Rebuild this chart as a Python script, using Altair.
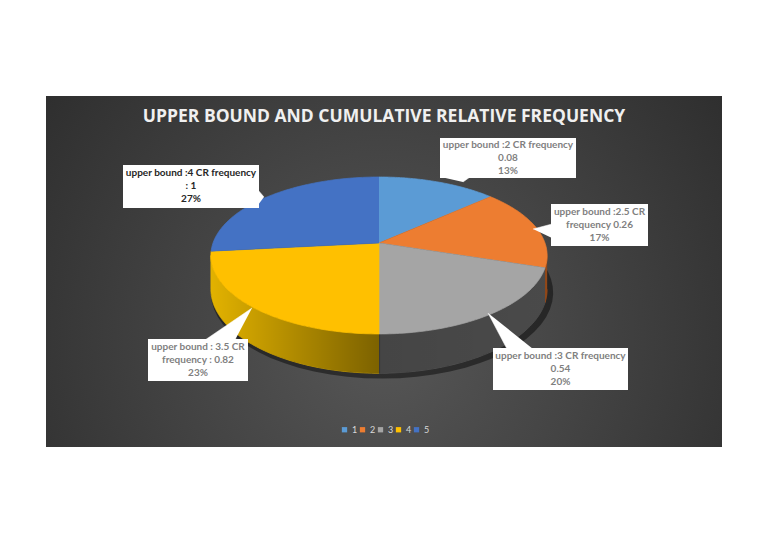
import altair as alt
import pandas as pd

# ---------------- data ----------------
slices = [1, 2, 3, 4, 5]
upper_bound = [2, 2.5, 3, 3.5, 4]
cr_frequency = [0.08, 0.26, 0.54, 0.82, 1]
percent_text = ["13%", "17%", "20%", "23%", "27%"]
label_line1 = ["upper bound :2 CR frequency", "upper bound :2.5 CR",
               "upper bound :3 CR frequency", "upper bound : 3.5 CR",
               "upper bound :4 CR frequency"]
label_line2 = ["0.08", "frequency 0.26", "0.54", "frequency : 0.82", ": 1"]
title_text = "UPPER BOUND AND CUMULATIVE RELATIVE FREQUENCY"

# ---------------- styles / layout ----------------
TOP_COLORS = ["#5b9bd5", "#ed7d31", "#a5a5a5", "#ffc000", "#4472c4"]
SIDE_COLORS = ["#3d6e9c", "#b85a1e", "#5c5c5c", "#e2b200", "#2f559a"]
TEXT_COLORS = ["#7f7f7f", "#7f7f7f", "#7f7f7f", "#7f7f7f", "#262626"]
RX, RY, PERSP, DEPTH, N = 166, 76.5, 0.159, 33, 72
X_DOMAIN = [-333, 343]
Y_DOMAIN = [-204, 147]
BOX_X0 = [61, 172, 114, -231, -256]
BOX_X1 = [197, 269, 249, -131, -120]
BOX_Y0 = [65, -3, -147, -138, 35]
BOX_Y1 = [105, 39, -105, -96, 78]
LINE_Y = [[98, 85, 72], [31, 18, 5], [-113, -126, -139], [-104, -117, -130], [70, 57, 44]]
POINTERS = [[(62, 66), (91, 66), (84, 61)],
            [(154, 14), (173, 19), (173, 5)],
            [(109, -70), (128, -106), (154, -106)],
            [(-127, -65), (-174, -97), (-144, -97)],
            [(-115, 46), (-121, 53), (-121, 38)]]
TITLE_POS = (5, 126)
FONT = "Lato"

X = alt.X("x:Q", scale=alt.Scale(domain=X_DOMAIN, nice=False, zero=False), axis=None)
Y = alt.Y("y:Q", scale=alt.Scale(domain=Y_DOMAIN, nice=False, zero=False), axis=None)

def color_expr(colors):
    return "[" + ",".join("'%s'" % c for c in colors) + "][datum.slice - 1]"

S_EXPR = "1 / (1 + %f * cos(datum.phi))" % PERSP

# ---------------- tables ----------------
top_df = pd.DataFrame([(s, v, k) for s, v in zip(slices, upper_bound) for k in range(N + 2)],
                      columns=["slice", "value", "k"])
side_df = pd.DataFrame([(s, v, k) for s, v in zip(slices, upper_bound) for k in range(2 * N + 2)],
                       columns=["slice", "value", "k"])
ring_df = pd.DataFrame({"k": list(range(2 * N + 2))})
shadow_df = pd.DataFrame({"k": list(range(N + 1))})


def with_fractions(chart):
    return (chart
            .transform_calculate(v0="datum.k == 0 ? datum.value : 0")
            .transform_joinaggregate(total="sum(v0)")
            .transform_window(cum="sum(v0)", sort=[alt.SortField("slice"), alt.SortField("k")],
                              frame=[None, 0])
            .transform_calculate(f0="(datum.cum - datum.value) / datum.total",
                                 f1="datum.cum / datum.total"))

# panel background
bg_grad = alt.RadialGradient(
    gradient="radial", x1=0.5, y1=0.6, x2=0.5, y2=0.6, r1=0, r2=0.75,
    stops=[alt.GradientStop(color="#575757", offset=0),
           alt.GradientStop(color="#262626", offset=1)])
bg_df = pd.DataFrame({"x": [X_DOMAIN[0]], "x2": [X_DOMAIN[1]], "y": [Y_DOMAIN[0]], "y2": [Y_DOMAIN[1]]})
background = alt.Chart(bg_df).mark_rect(fill=bg_grad).encode(x=X, x2="x2:Q", y=Y, y2="y2:Q")

# top faces
top = (with_fractions(alt.Chart(top_df))
       .transform_calculate(phi="2 * PI * (datum.f0 + (datum.f1 - datum.f0) * (datum.k - 1) / %d)" % N)
       .transform_calculate(s=S_EXPR)
       .transform_calculate(x="datum.k == 0 ? 0 : %f * sin(datum.phi) * datum.s" % RX,
                            y="datum.k == 0 ? 0 : %f * cos(datum.phi) * datum.s" % RY,
                            col=color_expr(TOP_COLORS))
       .mark_line(strokeWidth=0.7)
       .encode(x=X, y=Y, order=alt.Order("k:Q"), detail="slice:N",
               fill=alt.Fill("col:N", scale=None), stroke=alt.Stroke("col:N", scale=None)))

# visible side walls
VIS_A = "acos(-%f)" % PERSP
VIS_B = "2 * PI - acos(-%f)" % PERSP
side = (with_fractions(alt.Chart(side_df))
        .transform_calculate(pa="max(2 * PI * datum.f0, %s)" % VIS_A,
                             pb="min(2 * PI * datum.f1, %s)" % VIS_B)
        .transform_filter("datum.pa < datum.pb")
        .transform_calculate(
            phi="datum.k <= %d ? datum.pa + (datum.pb - datum.pa) * datum.k / %d : "
                "datum.pb - (datum.pb - datum.pa) * (datum.k - %d) / %d" % (N, N, N + 1, N),
            drop="datum.k <= %d ? 0 : 1" % N)
        .transform_calculate(s=S_EXPR)
        .transform_calculate(x="%f * sin(datum.phi) * datum.s" % RX,
                             y="%f * cos(datum.phi) * datum.s - datum.drop * %f * datum.s" % (RY, DEPTH),
                             col=color_expr(SIDE_COLORS))
        .mark_line(strokeWidth=0.7)
        .encode(x=X, y=Y, order=alt.Order("k:Q"), detail="slice:N",
                fill=alt.Fill("col:N", scale=None), stroke=alt.Stroke("col:N", scale=None)))

# shading on the side wall
shade_grad = alt.LinearGradient(
    gradient="linear", x1=0, x2=1, y1=0, y2=0,
    stops=[alt.GradientStop(color="rgba(0,0,0,0)", offset=0),
           alt.GradientStop(color="rgba(0,0,0,0.45)", offset=0.5),
           alt.GradientStop(color="rgba(0,0,0,0.25)", offset=0.505),
           alt.GradientStop(color="rgba(0,0,0,0.2)", offset=1)])
shade = (alt.Chart(ring_df)
         .transform_calculate(pa=VIS_A, pb=VIS_B)
         .transform_calculate(
             phi="datum.k <= %d ? datum.pa + (datum.pb - datum.pa) * datum.k / %d : "
                 "datum.pb - (datum.pb - datum.pa) * (datum.k - %d) / %d" % (N, N, N + 1, N),
             drop="datum.k <= %d ? 0 : 1" % N)
         .transform_calculate(s=S_EXPR)
         .transform_calculate(x="%f * sin(datum.phi) * datum.s" % RX,
                              y="%f * cos(datum.phi) * datum.s - datum.drop * %f * datum.s" % (RY, DEPTH))
         .mark_line(fill=shade_grad, strokeWidth=0)
         .encode(x=X, y=Y, order=alt.Order("k:Q")))

# soft shadow under the pie
shadow = (alt.Chart(shadow_df)
          .transform_calculate(phi="2 * PI * datum.k / %d" % N)
          .transform_calculate(s=S_EXPR)
          .transform_calculate(x="%f * sin(datum.phi) * datum.s + 3" % (RX + 3),
                               y="%f * cos(datum.phi) * datum.s - %f * datum.s - 3" % (RY + 2, DEPTH))
          .mark_line(fill="#000000", fillOpacity=0.45, strokeWidth=0)
          .encode(x=X, y=Y, order=alt.Order("k:Q")))

# label callouts
box_df = pd.DataFrame({"slice": slices, "x": BOX_X0, "x2": BOX_X1, "y": BOX_Y0, "y2": BOX_Y1})
boxes = alt.Chart(box_df).mark_rect(fill="white").encode(
    x=X, x2="x2:Q", y=Y, y2="y2:Q")

ptr_rows = []
for s, tri in zip(slices, POINTERS):
    for i, (px, py) in enumerate(tri):
        ptr_rows.append((s, i, px, py))
ptr_df = pd.DataFrame(ptr_rows, columns=["slice", "k", "x", "y"])
pointers = alt.Chart(ptr_df).mark_line(fill="white", stroke="white", strokeWidth=0.5).encode(
    x=X, y=Y, order=alt.Order("k:Q"), detail="slice:N")

txt_rows = []
for i, s in enumerate(slices):
    lines = [label_line1[i], label_line2[i], percent_text[i]]
    cx = (BOX_X0[i] + BOX_X1[i]) / 2
    for j, t in enumerate(lines):
        txt_rows.append((s, t, cx, LINE_Y[i][j], TEXT_COLORS[i]))
txt_df = pd.DataFrame(txt_rows, columns=["slice", "text", "x", "y", "tc"])
texts = alt.Chart(txt_df).mark_text(font=FONT, fontSize=10, fontWeight="bold",
                                    baseline="middle", align="center").encode(
    x=X, y=Y, text="text:N", color=alt.Color("tc:N", scale=None))

title_df = pd.DataFrame({"text": [title_text], "x": [TITLE_POS[0]], "y": [TITLE_POS[1]]})
title = alt.Chart(title_df).mark_text(font="Open Sans", fontSize=17.5, fontWeight="bold",
                                      color="#f0f0f0", baseline="middle", align="center").encode(
    x=X, y=Y, text="text:N")

# legend (drawn by Vega-Lite from the colour scale)
leg_df = pd.DataFrame({"slice": slices, "x": [0] * 5, "y": [0] * 5})
legend_layer = alt.Chart(leg_df).mark_square(opacity=0, size=1).encode(
    x=X, y=Y,
    color=alt.Color("slice:N", scale=alt.Scale(domain=slices, range=TOP_COLORS),
                    legend=alt.Legend(orient="none", legendX=294, legendY=329,
                                      direction="horizontal", title=None,
                                      symbolType="square", symbolSize=28,
                                      symbolOpacity=1, symbolStrokeWidth=0,
                                      labelColor="#d9d9d9", labelFontSize=9,
                                      labelFont=FONT, labelOffset=3,
                                      columnPadding=0)))

chart = (alt.layer(background, shadow, side, shade, top, pointers, boxes, texts, title, legend_layer)
         .properties(width=676, height=351, background="white",
                     padding={"left": 38, "top": 88, "right": 38, "bottom": 88},
                     autosize="none")
         .configure_view(stroke=None))

chart.save("out.html", embed_options={"renderer": "svg", "actions": False})
